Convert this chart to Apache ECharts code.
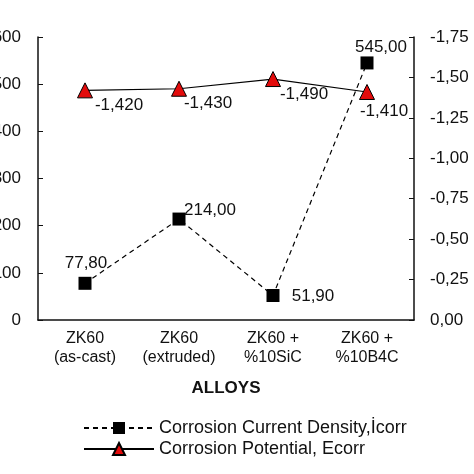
<!DOCTYPE html>
<html>
<head>
<meta charset="utf-8">
<script src="https://cdn.jsdelivr.net/npm/echarts@6/dist/echarts.min.js"></script>
<style>
  html, body { margin: 0; padding: 0; background: #fff; }
  #main { width: 474px; height: 474px; }
</style>
</head>
<body>
<div id="main"></div>
<script>
// data
var alloys = ["ZK60\n(as-cast)", "ZK60\n(extruded)", "ZK60 +\n%10SiC", "ZK60 +\n%10B4C"];
var icorr = [77.8, 214.0, 51.9, 545.0];
var ecorr = [-1.42, -1.43, -1.49, -1.41];
var leftTicks = { min: 0, max: 600, step: 100 };
var rightTicks = { min: -1.75, max: 0, step: 0.25 };

var font = "Liberation Sans, Arial, sans-serif";

function comma(v, d) {
  return v.toFixed(d).replace(".", ",");
}

// where each value label sits relative to its point
var icorrLabelOffsets = [[1, -20], [31, -9], [40, 1], [14, -16]];
var ecorrLabelOffsets = [[34, 15], [29, 15], [31, 15], [17, 19]];

var icorrData = [];
for (var i = 0; i < icorr.length; i++) {
  icorrData.push({ value: icorr[i], label: { offset: icorrLabelOffsets[i] } });
}
var ecorrData = [];
for (var i = 0; i < ecorr.length; i++) {
  ecorrData.push({ value: ecorr[i], label: { offset: ecorrLabelOffsets[i] } });
}

var myChart = echarts.init(document.getElementById("main"));

var option = {
  animation: false,
  textStyle: { fontFamily: font },
  grid: {
    left: 38, right: 60, top: 37, bottom: 154,
    containLabel: false,
    outerBoundsMode: "none"
  },
  legend: {
    orient: "vertical",
    left: 78,
    top: 414,
    itemWidth: 70,
    itemHeight: 15,
    itemGap: 3,
    textStyle: { fontFamily: font, fontSize: 18, color: "#111" },
    data: ["Corrosion Current Density,İcorr", "Corrosion Potential, Ecorr"]
  },
  xAxis: {
    type: "category",
    data: alloys,
    name: "ALLOYS",
    nameLocation: "middle",
    nameGap: 60,
    nameTextStyle: { fontFamily: font, fontSize: 17, fontWeight: "bold", color: "#111" },
    axisLine: { lineStyle: { color: "#111", width: 1.5 } },
    axisTick: { alignWithLabel: true, inside: true, length: 3, lineStyle: { color: "#111" } },
    axisLabel: { interval: 0, fontFamily: font, fontSize: 16, color: "#111", lineHeight: 19, margin: 9 }
  },
  yAxis: [
    {
      type: "value",
      min: leftTicks.min,
      max: leftTicks.max,
      interval: leftTicks.step,
      position: "left",
      splitLine: { show: false },
      axisLine: { show: true, lineStyle: { color: "#111", width: 1.5 } },
      axisTick: { show: true, inside: true, length: 5, lineStyle: { color: "#111" } },
      axisLabel: { fontFamily: font, fontSize: 17, color: "#111", margin: 17 }
    },
    {
      type: "value",
      min: rightTicks.min,
      max: rightTicks.max,
      interval: rightTicks.step,
      inverse: true,
      position: "right",
      splitLine: { show: false },
      axisLine: { show: true, lineStyle: { color: "#111", width: 1.5 } },
      axisTick: { show: true, inside: true, length: 5, lineStyle: { color: "#111" } },
      axisLabel: {
        fontFamily: font, fontSize: 17, color: "#111", margin: 16,
        formatter: function (v) { return comma(Math.abs(v) < 1e-9 ? 0 : v, 2); }
      }
    }
  ],
  series: [
    {
      name: "Corrosion Current Density,İcorr",
      type: "line",
      yAxisIndex: 0,
      data: icorrData,
      symbol: "rect",
      symbolSize: 13,
      itemStyle: { color: "#000" },
      lineStyle: { color: "#000", width: 1.2, type: [5, 4] },
      label: {
        show: true,
        position: "inside",
        fontFamily: font,
        fontSize: 17,
        color: "#111",
        formatter: function (p) { return comma(p.value, 2); }
      },
      z: 3
    },
    {
      name: "Corrosion Potential, Ecorr",
      type: "line",
      yAxisIndex: 1,
      data: ecorrData,
      symbol: "triangle",
      symbolSize: 15,
      itemStyle: { color: "#e30b0b", borderColor: "#000", borderWidth: 1 },
      lineStyle: { color: "#000", width: 1.2 },
      label: {
        show: true,
        position: "inside",
        fontFamily: font,
        fontSize: 17,
        color: "#111",
        formatter: function (p) { return comma(p.value, 3); }
      },
      z: 4
    }
  ]
};

myChart.setOption(option);
</script>
</body>
</html>
